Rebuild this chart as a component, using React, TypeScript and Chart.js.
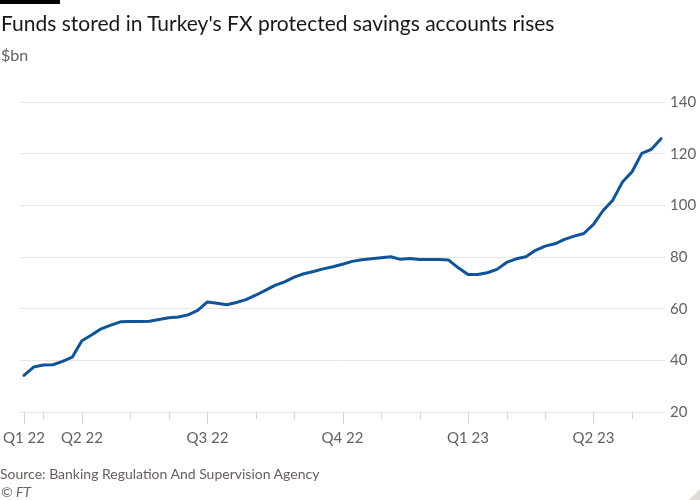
import React, { useEffect, useRef } from "react";
import { Chart, registerables } from "chart.js";

Chart.register(...registerables);

// Weekly funds in FX-protected accounts, $bn (week index 0 .. 66)
const fundsBn: number[] = [
  34.2, 37.4, 38.2, 38.3, 39.6, 41.2, 47.6, 49.8, 52.2, 53.6,
  54.9, 55.0, 55.0, 55.1, 55.8, 56.5, 56.8, 57.6, 59.3, 62.6,
  62.1, 61.5, 62.4, 63.5, 65.2, 67.1, 69.0, 70.4, 72.2, 73.5,
  74.4, 75.4, 76.2, 77.2, 78.3, 78.9, 79.3, 79.7, 80.1, 79.1,
  79.4, 79.0, 79.0, 79.0, 78.8, 75.8, 73.2, 73.2, 73.9, 75.2,
  77.9, 79.3, 80.1, 82.6, 84.2, 85.1, 86.8, 88.1, 89.1, 92.6,
  98.0, 102.0, 109.0, 113.0, 120.1, 121.7, 125.8,
];

// Quarter ticks (labelled) and month ticks (unlabelled), as week indices
const quarterWeeks: number[] = [0, 6, 19, 33, 46, 59];
const quarterLabels: string[] = ["Q1 22", "Q2 22", "Q3 22", "Q4 22", "Q1 23", "Q2 23"];
const monthWeeks: number[] = [2, 11, 15, 24, 28, 37, 41, 50, 54, 63];

const yTicks: number[] = [20, 40, 60, 80, 100, 120, 140];

const FONT = "Lato, 'Noto Sans', sans-serif";
const GREY = "#66605c";

const tickMarks = {
  id: "tickMarks",
  afterDraw(chart: any) {
    const x = chart.scales.x;
    const ctx = chart.ctx;
    const bottom = chart.chartArea.bottom;
    ctx.save();
    ctx.strokeStyle = "#d6d1cc";
    ctx.lineWidth = 1;
    x.ticks.forEach((t: any) => {
      const major = quarterWeeks.includes(t.value);
      const px = Math.round(x.getPixelForValue(t.value)) + 0.5;
      ctx.beginPath();
      ctx.moveTo(px, bottom);
      ctx.lineTo(px, bottom + (major ? 12 : 7));
      ctx.stroke();
    });
    ctx.restore();
  },
};

export default function App() {
  const ref = useRef<HTMLCanvasElement | null>(null);

  useEffect(() => {
    if (!ref.current) return;
    const chart = new Chart(ref.current, {
      type: "line",
      data: {
        datasets: [
          {
            data: fundsBn.map((v, i) => ({ x: i, y: v })),
            borderColor: "#0f5499",
            borderWidth: 3,
            pointRadius: 0,
            tension: 0,
            borderJoinStyle: "round",
            borderCapStyle: "round",
          },
        ],
      },
      options: {
        animation: false,
        responsive: false,
        maintainAspectRatio: false,
        layout: { padding: { left: 20, top: 102, right: 0, bottom: 0 } },
        plugins: { legend: { display: false }, tooltip: { enabled: false } },
        scales: {
          x: {
            type: "linear",
            min: -0.41,
            max: 66.41,
            afterBuildTicks: (scale: any) => {
              scale.ticks = [...quarterWeeks, ...monthWeeks]
                .sort((a, b) => a - b)
                .map((v) => ({ value: v }));
            },
            afterFit: (scale: any) => {
              scale.height = 88;
              scale.paddingLeft = 0;
              scale.paddingRight = 0;
            },
            ticks: {
              autoSkip: false,
              maxRotation: 0,
              padding: 17,
              color: GREY,
              font: { family: FONT, size: 15 },
              callback: (v: any) => {
                const k = quarterWeeks.indexOf(Number(v));
                return k >= 0 ? quarterLabels[k] : "";
              },
            },
            grid: { display: false, drawTicks: false },
            border: { display: false },
          },
          y: {
            position: "right",
            min: 20,
            max: 140,
            afterBuildTicks: (scale: any) => {
              scale.ticks = yTicks.map((v) => ({ value: v }));
            },
            afterFit: (scale: any) => {
              scale.width = 35;
              scale.paddingTop = 0;
              scale.paddingBottom = 0;
            },
            ticks: {
              padding: 5,
              color: GREY,
              font: { family: FONT, size: 15 },
            },
            grid: { color: "#e9e5e1", lineWidth: 1, drawTicks: false },
            border: { display: false },
          },
        },
      },
      plugins: [tickMarks],
    } as any);
    return () => chart.destroy();
  }, []);

  return (
    <div
      style={{
        position: "fixed",
        left: 0,
        top: 0,
        width: 700,
        height: 500,
        background: "#fff",
        overflow: "hidden",
        fontFamily: FONT,
      }}
    >
      <canvas ref={ref} width={700} height={500} style={{ position: "absolute", left: 0, top: 0 }} />
      <div style={{ position: "absolute", left: 0, top: 0, width: 60, height: 4, background: "#000" }} />
      <div style={{ position: "absolute", left: 1, top: 10, fontSize: 21, color: "#1a1817", whiteSpace: "nowrap" }}>
        Funds stored in Turkey's FX protected savings accounts rises
      </div>
      <div style={{ position: "absolute", left: 1, top: 45, fontSize: 16, color: GREY }}>$bn</div>
      <div style={{ position: "absolute", left: 0, top: 465, fontSize: 14, color: GREY, whiteSpace: "nowrap" }}>
        Source: Banking Regulation And Supervision Agency
      </div>
      <div style={{ position: "absolute", left: 1, top: 483, fontSize: 14, color: GREY, fontStyle: "italic" }}>
        © FT
      </div>
      <div
        style={{
          position: "absolute",
          right: 0,
          bottom: 0,
          width: 0,
          height: 0,
          borderLeft: "11px solid transparent",
          borderBottom: "11px solid #e0dbd5",
        }}
      />
    </div>
  );
}
